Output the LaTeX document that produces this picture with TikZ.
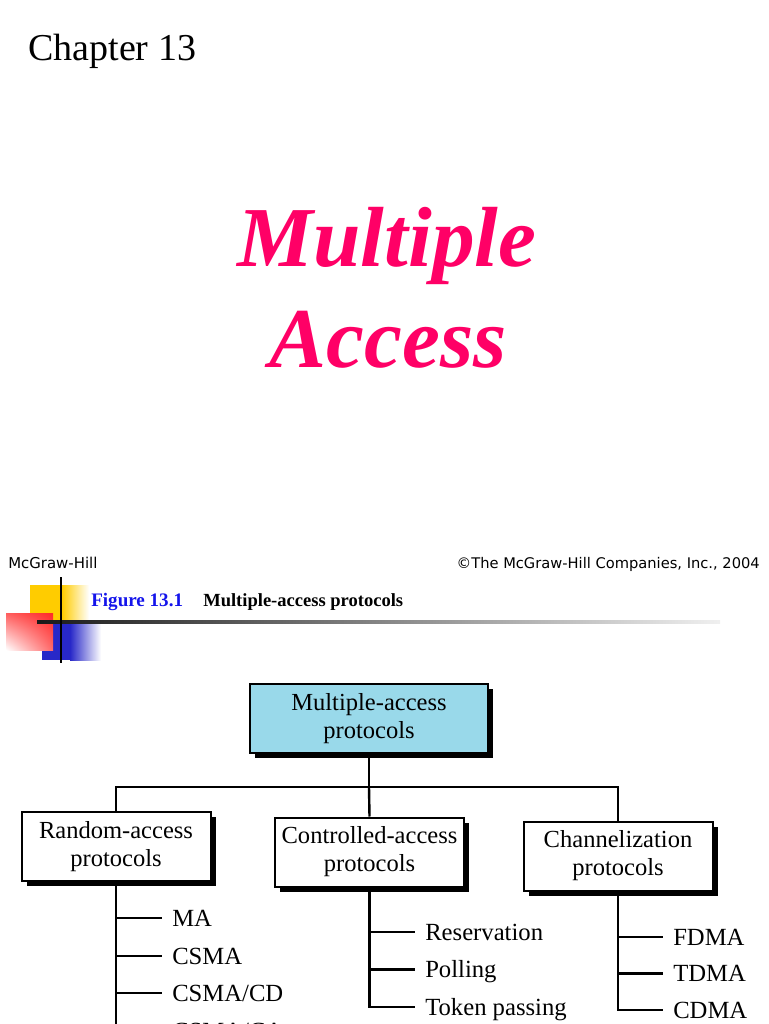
\documentclass[tikz,border=0pt]{standalone}
\usepackage{fontspec}
\setmainfont{Liberation Serif}
\newfontfamily\footfont{DejaVu Sans}
\usepackage{tikz}
\usetikzlibrary{positioning,shadows,shadings,calc}
\usepackage{xcolor}

\definecolor{titlepink}{RGB}{255,0,102}
\definecolor{figblue}{RGB}{20,20,235}
\definecolor{boxblue}{RGB}{153,217,234}
\definecolor{decoyellow}{RGB}{255,204,0}
\definecolor{decored}{RGB}{255,40,40}
\definecolor{decoblue}{RGB}{40,40,200}

\begin{document}
\begin{tikzpicture}[
    x=0.75pt, y=-0.75pt,
    protobox/.style={draw, line width=1.5pt, rectangle, fill=white,
        minimum width=141.75pt, minimum height=51.75pt, align=center,
        font=\fontsize{18.4}{21}\selectfont,
        general shadow={fill=black, shadow xshift=3.75pt, shadow yshift=-3.75pt}},
    item/.style={anchor=west, inner xsep=7.5pt, inner ysep=0pt,
        text height=12.2pt, text depth=0pt, font=\fontsize{18.5}{21}\selectfont},
    link/.style={line width=1.8pt},
]
\useasboundingbox (0,0) rectangle (768,1024);
\clip (0,0) rectangle (768,1024);

% title slide
\node[anchor=base west, inner sep=0pt, font=\fontsize{28.5}{30}\selectfont] (chap) at (28,61) {Chapter 13};
\node[anchor=base, inner sep=0pt, text=titlepink, font=\fontsize{64}{70}\selectfont\bfseries\itshape] (ttl1) at (387,266) {Multiple};
\node[anchor=base, inner sep=0pt, text=titlepink, font=\fontsize{64}{70}\selectfont\bfseries\itshape] (ttl2) at (388,367) {Access};
\node[anchor=base west, inner sep=0pt, font=\footfont\fontsize{11.2}{12}\selectfont] (pub) at (8,568) {McGraw-Hill};
\node[anchor=base east, inner sep=0pt, font=\footfont\fontsize{11}{12}\selectfont] (copy) at (760,568) {©The McGraw-Hill Companies, Inc., 2004};

% corner decoration
\fill[decoyellow] (30,585) rectangle (62,630);
\shade[left color=decoyellow, right color=white] (62,585) rectangle (89,630);
\fill[decoblue] (42,623) rectangle (70,660);
\shade[left color=decoblue, right color=white] (70,623) rectangle (101,660);
\shade[upper left=decored!75!white, upper right=decored, lower left=white, lower right=decored!70!white] (6,613) rectangle (53,650);
\shade[left color=black!90, middle color=black!55, right color=black!6] (37,620.5) rectangle (720,623.5);
\draw[line width=2.2pt] (61,577) -- (61,663);

\node[anchor=base west, inner sep=0pt, text=figblue, font=\fontsize{14.3}{16}\selectfont\bfseries] (fig) at (91,606) {Figure 13.1};
\node[anchor=base west, inner sep=0pt, font=\fontsize{13.9}{16}\selectfont\bfseries] (cap) at (203,606) {Multiple-access protocols};

% tree
\node[protobox, fill=boxblue, minimum width=178.5pt] (mac) at (369,718.5) {Multiple-access\\protocols};
\node[protobox] (rnd) at (116,846.5) {Random-access\\protocols};
\node[protobox] (ctl) at (369.5,852) {Controlled-access\\protocols};
\node[protobox] (chn) at (618,856) {Channelization\\protocols};

\coordinate (bus) at (369,787);
\draw[link] (mac) -- (bus);
\draw[link] (rnd.north) |- (bus) -| (chn.north);
\draw[link] (bus) -- (ctl.north);

\node[item] (ma) at (162,918) {MA};
\node[item] (csma) at (162,956) {CSMA};
\node[item] (cd) at (162,993) {CSMA/CD};
\node[item] (ca) at (162,1031) {CSMA/CA};

\node[item] (res) at (415,932) {Reservation};
\node[item] (pol) at (415,969.5) {Polling};
\node[item] (tok) at (415,1007) {Token passing};

\node[item] (fd) at (663,937) {FDMA};
\node[item] (td) at (663,973.5) {TDMA};
\node[item] (cdm) at (663,1010) {CDMA};

\foreach \k in {ma,csma,cd,ca} \draw[link] (rnd.south) |- (\k.west);
\foreach \k in {res,pol,tok} \draw[link] (ctl.south) |- (\k.west);
\foreach \k in {fd,td,cdm} \draw[link] (chn.south) |- (\k.west);

\end{tikzpicture}
\end{document}
